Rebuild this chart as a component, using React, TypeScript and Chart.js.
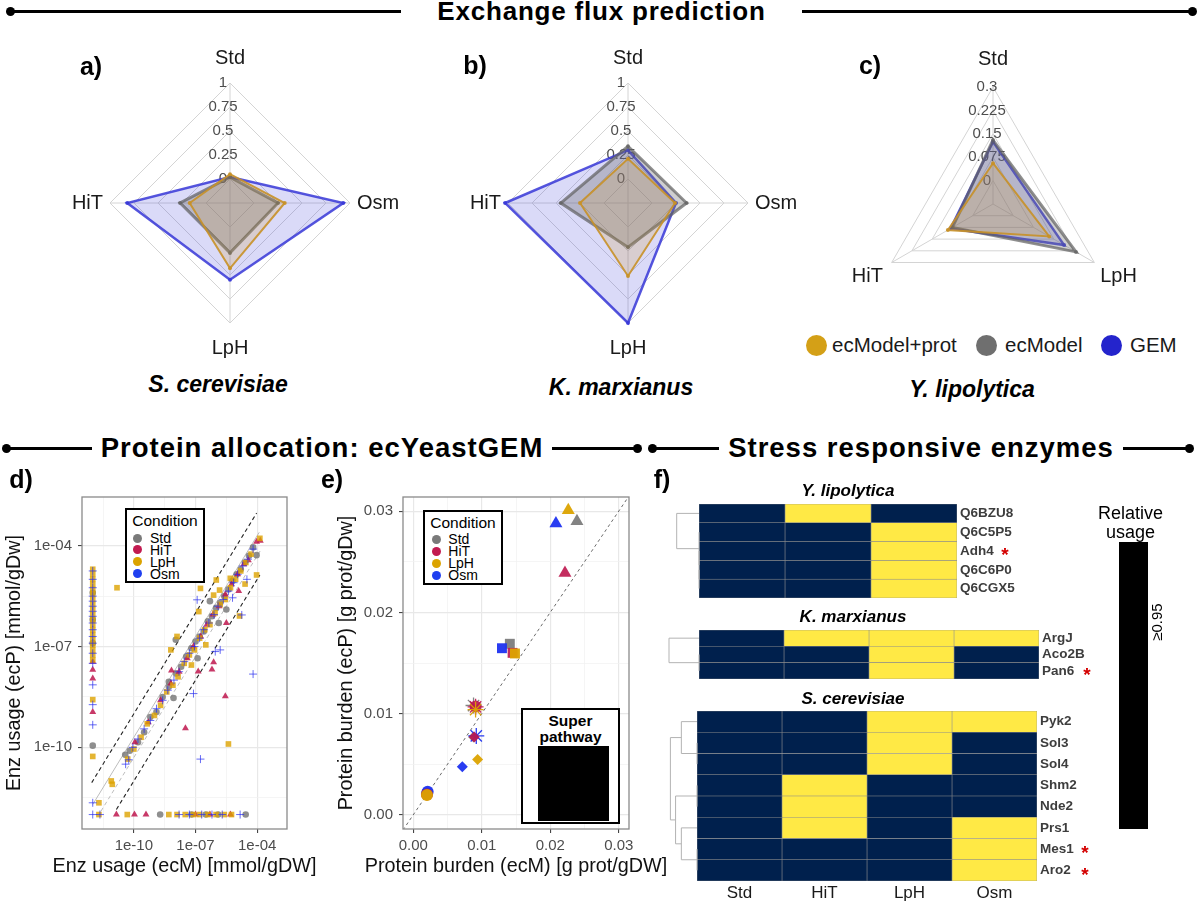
import React, { useEffect, useRef } from 'react';
import { Chart, registerables } from 'chart.js';

Chart.register(...registerables);
const FONT = '"Liberation Sans", Arial, Helvetica, sans-serif';
Chart.defaults.font.family = FONT;

// ---------------- Radar data (a, b, c) ----------------
const radarSeries = ['ecModel+prot', 'ecModel', 'GEM'];
const axesSc = ['Std', 'Osm', 'LpH', 'HiT'];
const scProt = [0.05, 0.32, 0.43, 0.17];
const scEc = [0.02, 0.25, 0.27, 0.27];
const scGem = [0.02, 0.93, 0.55, 0.82];
const axesKm = ['Std', 'Osm', 'LpH', 'HiT'];
const kmProt = [0.21, 0.24, 0.51, 0.25];
const kmEc = [0.34, 0.36, 0.21, 0.45];
const kmGem = [0.3, 0.25, 1.0, 1.03];
const axesYl = ['Std', 'LpH', 'HiT'];
const ylProt = [0.056, 0.133, 0.092];
const ylEc = [0.13, 0.232, 0.075];
const ylGem = [0.124, 0.188, 0.082];
const ticksAB = [0, 0.25, 0.5, 0.75, 1];
const tickLabelsAB = ['0', '0.25', '0.5', '0.75', '1'];
const ticksC = [0, 0.075, 0.15, 0.225, 0.3];
const tickLabelsC = ['0', '0.075', '0.15', '0.225', '0.3'];

// ---------------- Panel d: enzyme usage (log10 values) ----------------
const conditions = ['Std', 'HiT', 'LpH', 'Osm'];
const dStd = [
  [-12, -5.4], [-12, -6.2], [-12, -6.9], [-12, -9.95],
  [-8.72, -12], [-7.2, -12], [-6.5, -12], [-5.9, -12], [-4.56, -12],
  [-10.42, -10.22], [-10.2, -10.1], [-9.8, -9.85], [-9.5, -9.55], [-9.2, -9.1], [-8.9, -8.95], [-8.6, -8.5],
  [-8.07, -8.53], [-8.3, -8.2], [-7.95, -7.8], [-7.7, -7.6], [-7.45, -7.3], [-7.2, -7.05], [-7.0, -6.85],
  [-6.8, -6.7], [-6.6, -6.55], [-6.4, -6.25], [-6.2, -6.1], [-6.0, -5.85], [-5.8, -5.7], [-5.6, -5.5],
  [-5.4, -5.3], [-5.2, -5.05], [-5.0, -4.85], [-4.8, -4.7], [-4.6, -4.5], [-4.4, -4.3], [-4.2, -4.05],
  [-4.03, -4.28], [-5.87, -6.3], [-7.96, -6.8], [-6.3, -5.65], [-6.9, -7.35], [-5.5, -5.9], [-8.3, -8.05],
];
const dHiT = [
  [-12, -7.45], [-12, -7.69], [-12, -7.95], [-12, -8.95],
  [-10.85, -12], [-9.97, -12], [-9.41, -12], [-7.0, -12], [-6.3, -12], [-5.3, -12],
  [-9.95, -9.85], [-9.3, -9.25], [-8.7, -8.6], [-8.2, -8.1], [-7.8, -7.75], [-7.4, -7.35], [-7.1, -7.0],
  [-6.75, -6.7], [-6.45, -6.35], [-6.15, -6.05], [-5.85, -5.8], [-5.55, -5.45], [-5.25, -5.15],
  [-4.95, -4.85], [-4.65, -4.55], [-4.43, -4.43], [-4.03, -3.88], [-3.85, -3.85],
  [-7.49, -9.43], [-5.55, -8.48], [-6.12, -7.47], [-6.2, -7.68], [-8.17, -7.71], [-6.87, -7.74],
  [-5.5, -6.3], [-4.9, -5.35],
];
const dLpH = [
  [-12, -4.7], [-12, -4.85], [-12, -5.0], [-12, -5.15], [-12, -5.3], [-12, -5.45], [-12, -5.6], [-12, -5.75],
  [-12, -5.9], [-12, -6.05], [-12, -6.2], [-12, -6.35], [-12, -6.5], [-12, -6.65], [-12, -6.8], [-12, -6.95],
  [-12, -7.1], [-12, -7.25], [-12, -7.4], [-12, -8.58], [-12, -10.27],
  [-11.7, -12], [-10.32, -12], [-8.3, -12], [-7.9, -12], [-7.5, -12], [-7.1, -12], [-6.8, -12], [-6.4, -12],
  [-6.0, -12], [-5.6, -12], [-5.25, -12],
  [-11.7, -11.65], [-11.1, -11.0], [-11.05, -11.1],
  [-10.3, -10.35], [-10.0, -10.05], [-9.65, -9.7], [-9.35, -9.3], [-9.0, -9.05], [-8.7, -8.75], [-8.4, -8.35],
  [-8.1, -8.15], [-7.85, -7.9], [-7.55, -7.5], [-7.3, -7.25], [-7.05, -7.1], [-6.8, -6.75], [-6.55, -6.5],
  [-6.3, -6.35], [-6.05, -6.0], [-5.8, -5.75], [-5.55, -5.6], [-5.3, -5.25], [-5.05, -5.0], [-4.8, -4.75],
  [-4.55, -4.5], [-4.3, -4.25], [-3.87, -3.78],
  [-10.82, -5.25], [-8.2, -7.1], [-7.9, -6.7], [-6.84, -5.96], [-6.76, -5.27], [-6.12, -5.47], [-5.99, -5.02],
  [-5.83, -5.32], [-5.31, -4.97], [-4.59, -5.14], [-4.03, -4.87], [-4.86, -6.09], [-5.4, -9.9], [-6.5, -6.95],
  [-7.2, -7.55],
];
const dOsm = [
  [-12, -4.75], [-12, -5.0], [-12, -5.25], [-12, -5.5], [-12, -5.65], [-12, -5.8], [-12, -5.95], [-12, -6.1],
  [-12, -6.3], [-12, -6.5], [-12, -6.7], [-12, -6.9], [-12, -7.2], [-12, -7.5], [-12, -8.14], [-12, -8.73],
  [-12, -9.33], [-12, -11.65],
  [-12, -12], [-11.65, -12], [-7.8, -12], [-7.3, -12], [-6.7, -12], [-6.2, -12], [-5.7, -12], [-4.83, -12],
  [-10.4, -10.5], [-10.25, -10.37], [-10.05, -10.0], [-9.8, -9.75], [-9.5, -9.45], [-9.2, -9.2], [-8.9, -8.85],
  [-8.6, -8.6], [-8.35, -8.3], [-8.05, -8.0], [-7.8, -7.75], [-7.55, -7.45], [-7.3, -7.2], [-7.05, -7.0],
  [-6.8, -6.75], [-6.6, -6.5], [-6.35, -6.3], [-6.1, -6.05], [-5.9, -5.8], [-5.65, -5.6], [-5.4, -5.35],
  [-5.15, -5.1], [-4.95, -4.85], [-4.7, -4.6], [-4.45, -4.4], [-4.2, -4.1],
  [-4.2, -7.82], [-6.76, -10.35], [-7.1, -8.4], [-5.8, -7.1], [-6.04, -7.15], [-4.75, -6.06], [-6.92, -5.61],
  [-4.5, -5.0], [-5.2, -5.55],
];
// reference lines (log10 endpoints): y = 10x, y = x/10, y = 2x, y = x/2
const dLineUp = [[-12.05, -11.05], [-4.03, -3.03]];
const dLineDown = [[-10.85, -11.85], [-3.87, -4.87]];
const dLineHi = [[-12, -11.7], [-3.9, -3.6]];
const dLineLo = [[-11.6, -11.9], [-3.85, -4.15]];
const dTicks = [-11.5, -10, -8.5, -7, -5.5, -4];
const dTickLabels = ['', '1e-10', '', '1e-07', '', '1e-04'];

// ---------------- Panel e: protein burden ----------------
const eShapes = ['triangle', 'rect', 'star', 'rectRot', 'circle'];
const eStd = [[0.0239, 0.029], [0.0141, 0.0169], [0.0088, 0.0108], [0.0088, 0.0077], [0.002, 0.0021]];
const eStdPath = [0, 1, 2, 3, 4];
const eHiT = [[0.02215, 0.0239], [0.0145, 0.016], [0.0091, 0.01067], [0.0091, 0.0107], [0.0089, 0.0077], [0.002, 0.002]];
const eHiTPath = [0, 1, 2, 4, 3, 4];
const eLpH = [[0.02263, 0.0301], [0.01485, 0.01594], [0.0091, 0.0104], [0.0094, 0.00546], [0.002, 0.00195]];
const eLpHPath = [0, 1, 2, 3, 4];
const eOsm = [[0.02083, 0.02878], [0.01295, 0.01646], [0.0092, 0.0078], [0.00716, 0.00474], [0.0021, 0.00227]];
const eOsmPath = [0, 1, 2, 3, 4];
const eIdentity = [[-0.0015, -0.0015], [0.0315, 0.0315]];
const eTicks = [0, 0.005, 0.01, 0.015, 0.02, 0.025, 0.03];
const eTickLabels = ['0.00', '', '0.01', '', '0.02', '', '0.03'];

// ---------------- Panel f: heatmaps ----------------
const ylRows = ['Q6BZU8', 'Q6C5P5', 'Adh4', 'Q6C6P0', 'Q6CGX5'];
const ylCols = ['Std', 'HiT', 'LpH'];
const ylMatrix = [[0, 1, 0], [0, 0, 1], [0, 0, 1], [0, 0, 1], [0, 0, 1]];
const ylStars = [2];
const ylTree = [[3, 4, 0], [2, 5, 0], [1, 6, 0], [0, 7, 1.41]];
const kmRows = ['ArgJ', 'Aco2B', 'Pan6'];
const kmCols = ['Std', 'HiT', 'LpH', 'Osm'];
const kmMatrix = [[0, 1, 1, 1], [0, 0, 1, 0], [0, 0, 1, 0]];
const kmStars = [2];
const kmTree = [[1, 2, 0], [0, 3, 1.41]];
const scRows = ['Pyk2', 'Sol3', 'Sol4', 'Shm2', 'Nde2', 'Prs1', 'Mes1', 'Aro2'];
const scCols = ['Std', 'HiT', 'LpH', 'Osm'];
const scMatrix = [[0, 0, 1, 1], [0, 0, 1, 0], [0, 0, 1, 0], [0, 1, 0, 0], [0, 1, 0, 0], [0, 1, 0, 1], [0, 0, 0, 1], [0, 0, 0, 1]];
const scStars = [6, 7];
const scTree = [[1, 2, 0], [0, 8, 1], [3, 4, 0], [6, 7, 0], [5, 11, 1], [10, 12, 1.37], [9, 13, 1.7]];

// ---------------- styles ----------------
const GOLD = '#d4a017';
const GREY = '#6f6f6f';
const BLUE = '#2424cc';
const condCol = ['#7a7a7a', '#c21a50', '#dba300', '#1f3ff0'];
const HI = '#ffe945';
const LO = '#00204d';

function ChartBox({ make, left, top, width, height }: any) {
  const ref = useRef<HTMLCanvasElement>(null);
  useEffect(() => {
    const chart = new Chart(ref.current as HTMLCanvasElement, make());
    return () => chart.destroy();
  }, []);
  return <canvas ref={ref} width={width} height={height} style={{ position: 'absolute', left, top, width, height }} />;
}

function radarConfig(labels: string[], prot: number[], ec: number[], gem: number[], min: number, max: number,
  tickVals: number[], tickLbls: string[], pad: any, endGap: number, sideGap: number, tickDx: number) {
  const ds = (label: string, data: number[], line: string, fill: string, w: number) => ({
    label, data, borderColor: line, backgroundColor: fill, borderWidth: w, fill: 'start',
    pointRadius: 2, pointBackgroundColor: line, pointBorderWidth: 0, clip: false,
  });
  return {
    type: 'radar',
    data: {
      labels,
      datasets: [
        ds(radarSeries[0], prot, 'rgba(200,145,40,0.9)', 'rgba(205,150,40,0.2)', 2),
        ds(radarSeries[1], ec, 'rgba(95,95,95,0.7)', 'rgba(110,110,110,0.33)', 3),
        ds(radarSeries[2], gem, 'rgba(55,55,215,0.85)', 'rgba(70,70,220,0.2)', 2.5),
      ],
    },
    options: {
      animation: false, responsive: false,
      layout: { padding: pad },
      plugins: { legend: { display: false }, tooltip: { enabled: false } },
      elements: { line: { tension: 0 } },
      scales: {
        r: {
          min, max,
          afterBuildTicks: (s: any) => { s.ticks = tickVals.map((v) => ({ value: v })); },
          ticks: { display: false },
          pointLabels: { display: false },
          grid: { color: '#d4d4d4', lineWidth: 1 },
          angleLines: { color: '#d4d4d4', lineWidth: 1 },
        },
      },
    },
    plugins: [{
      id: 'radarText',
      beforeDatasetsDraw(chart: any) {
        const s = chart.scales.r; const ctx = chart.ctx;
        ctx.save();
        ctx.font = `15px ${FONT}`; ctx.fillStyle = '#4d4d4d'; ctx.textAlign = 'center'; ctx.textBaseline = 'middle';
        tickVals.forEach((v, i) => ctx.fillText(tickLbls[i], s.xCenter + tickDx, s.yCenter - s.getDistanceFromCenterForValue(v)));
        ctx.restore();
      },
      afterDraw(chart: any) {
        const s = chart.scales.r; const ctx = chart.ctx; const R = s.drawingArea;
        ctx.save();
        ctx.font = `20px ${FONT}`; ctx.fillStyle = '#1a1a1a'; ctx.textBaseline = 'middle';
        chart.data.labels.forEach((lab: string, i: number) => {
          const a = s.getIndexAngle(i) - Math.PI / 2;
          const side = Math.abs(Math.sin(a)) < 0.3;
          const p = s.getPointPosition(i, R + (side ? sideGap : endGap));
          ctx.textAlign = side ? (Math.cos(a) > 0 ? 'left' : 'right') : 'center';
          ctx.fillText(lab, p.x, p.y);
        });
        ctx.restore();
      },
    }],
  };
}

function axisOpts(type: string, min: number, max: number, tickVals: number[], labels: string[], pad: number, fit: (s: any) => void) {
  return {
    type, min, max,
    afterBuildTicks: (s: any) => { s.ticks = tickVals.map((v) => ({ value: v })); },
    afterFit: (s: any) => { fit(s); s.paddingTop = 0; s.paddingBottom = 0; s.paddingLeft = 0; s.paddingRight = 0; },
    ticks: {
      callback: (_v: any, i: number) => labels[i], color: '#4d4d4d', font: { size: 15 }, padding: pad,
      autoSkip: false, maxRotation: 0, minRotation: 0,
    },
    grid: {
      color: (c: any) => (labels[c.index] ? '#e8e8e8' : '#f1f1f1'),
      lineWidth: (c: any) => (labels[c.index] ? 1.2 : 0.7),
      tickColor: (c: any) => (labels[c.index] ? '#333' : 'rgba(0,0,0,0)'),
      tickLength: 4, tickWidth: 1,
    },
    border: { display: false },
  };
}

function framePlugin(xTitle: string, yTitle: string, xTitleDy: number, yTitleDx: number) {
  return {
    id: 'frame',
    afterDraw(chart: any) {
      const ctx = chart.ctx; const a = chart.chartArea;
      ctx.save();
      ctx.strokeStyle = '#8a8a8a'; ctx.lineWidth = 1.3;
      ctx.strokeRect(a.left, a.top, a.right - a.left, a.bottom - a.top);
      ctx.font = `19.8px ${FONT}`; ctx.fillStyle = '#111'; ctx.textAlign = 'center'; ctx.textBaseline = 'middle';
      ctx.fillText(xTitle, (a.left + a.right) / 2, a.bottom + xTitleDy);
      ctx.translate(a.left + yTitleDx, (a.top + a.bottom) / 2);
      ctx.rotate(-Math.PI / 2);
      ctx.fillText(yTitle, 0, 0);
      ctx.restore();
    },
  };
}

const toLogPts = (arr: number[][]) => arr.map(([a, b]) => ({ x: Math.pow(10, a), y: Math.pow(10, b) }));
const toPts = (arr: number[][]) => arr.map(([a, b]) => ({ x: a, y: b }));

function dConfig() {
  const pts = (label: string, arr: number[][], style: string, color: string, r: number, bw: number) => ({
    label, data: toLogPts(arr), pointStyle: style, pointRadius: r, backgroundColor: color, borderColor: color, borderWidth: bw,
  });
  const line = (arr: number[][], color: string, dash: number[], w: number) => ({
    data: toLogPts(arr), showLine: true, pointRadius: 0, borderColor: color, borderDash: dash, borderWidth: w, fill: false,
  });
  return {
    type: 'scatter',
    data: {
      datasets: [
        pts('Osm', dOsm, 'cross', 'rgba(40,45,240,0.7)', 4, 1),
        pts('LpH', dLpH, 'rect', 'rgba(221,163,0,0.8)', 4, 0),
        pts('HiT', dHiT, 'triangle', 'rgba(190,22,78,0.85)', 4, 0),
        pts('Std', dStd, 'circle', 'rgba(115,115,115,0.8)', 3.3, 0),
        line(dLineUp, '#222', [4, 3], 1.1),
        line(dLineDown, '#222', [4, 3], 1.1),
        line(dLineHi, '#bdbdbd', [], 1),
        line(dLineLo, '#bdbdbd', [4, 3], 1),
      ],
    },
    options: {
      animation: false, responsive: false,
      layout: { padding: { left: 0, top: 15, right: 38, bottom: 0 } },
      plugins: { legend: { display: false }, tooltip: { enabled: false } },
      scales: {
        x: axisOpts('logarithmic', Math.pow(10, -12.46), Math.pow(10, -2.55), dTicks.map((v) => Math.pow(10, v)), dTickLabels, 4, (s: any) => { s.height = 56; }),
        y: axisOpts('logarithmic', Math.pow(10, -12.43), Math.pow(10, -2.55), dTicks.map((v) => Math.pow(10, v)), dTickLabels, 6, (s: any) => { s.width = 82; }),
      },
    },
    plugins: [framePlugin('Enz usage (ecM) [mmol/gDW]', 'Enz usage (ecP) [mmol/gDw]', 38, -67)],
  };
}

function eConfig() {
  const eRadius = [7.5, 7, 8, 5.5, 6];
  const pts = (label: string, arr: number[][], path: number[], color: string) => ({
    label, data: toPts(arr),
    pointStyle: path.map((k) => eShapes[k]),
    pointRadius: path.map((k) => eRadius[k]),
    pointBorderWidth: path.map((k) => (k === 2 ? 1.3 : 0)),
    backgroundColor: color, borderColor: color,
  });
  return {
    type: 'scatter',
    data: {
      datasets: [
        pts('LpH', eLpH, eLpHPath, 'rgba(220,163,0,0.95)'),
        pts('HiT', eHiT, eHiTPath, 'rgba(190,22,78,0.9)'),
        pts('Osm', eOsm, eOsmPath, 'rgba(30,50,240,0.95)'),
        pts('Std', eStd, eStdPath, 'rgba(120,120,120,0.92)'),
        { data: toPts(eIdentity), showLine: true, pointRadius: 0, borderColor: '#6a6a6a', borderDash: [3, 3], borderWidth: 1 },
      ],
    },
    options: {
      animation: false, responsive: false,
      layout: { padding: { left: 0, top: 15, right: 61, bottom: 0 } },
      plugins: { legend: { display: false }, tooltip: { enabled: false } },
      scales: {
        x: axisOpts('linear', -0.0015, 0.0315, eTicks, eTickLabels, 4, (s: any) => { s.height = 56; }),
        y: axisOpts('linear', -0.0014, 0.0314, eTicks, eTickLabels, 6, (s: any) => { s.width = 75; }),
      },
    },
    plugins: [framePlugin('Protein burden (ecM) [g prot/gDW]', 'Protein burden (ecP) [g prot/gDw]', 38, -56)],
  };
}

function heatConfig(rows: string[], cols: string[], matrix: number[][], stars: number[], tree: number[][],
  treeW: number, pad: any, axisW: number, showX: boolean) {
  return {
    type: 'bar',
    data: {
      labels: rows,
      datasets: cols.map((c, j) => ({
        label: c,
        data: rows.map(() => 1),
        backgroundColor: matrix.map((r) => (r[j] ? HI : LO)),
        borderColor: '#8c8c8c', borderWidth: 0.6, borderSkipped: false,
        barPercentage: 1, categoryPercentage: 1,
      })),
    },
    options: {
      indexAxis: 'y', animation: false, responsive: false,
      layout: { padding: pad },
      plugins: { legend: { display: false }, tooltip: { enabled: false } },
      scales: {
        x: {
          stacked: true, min: 0, max: cols.length, display: showX,
          grid: { display: false, drawTicks: false }, border: { display: false },
          afterBuildTicks: (s: any) => { s.ticks = cols.map((_c, j) => ({ value: j + 0.5 })); },
          afterFit: (s: any) => { if (showX) s.height = 22; s.paddingLeft = 0; s.paddingRight = 0; },
          ticks: { callback: (_v: any, i: number) => cols[i], font: { size: 17 }, color: '#1a1a1a', padding: 2, autoSkip: false, maxRotation: 0 },
        },
        y: {
          stacked: true, position: 'right',
          grid: { display: false, drawTicks: false }, border: { display: false },
          afterFit: (s: any) => { s.width = axisW; s.paddingTop = 0; s.paddingBottom = 0; },
          ticks: { font: { size: 13.5, weight: 'bold' }, color: '#3d3d3d', padding: 3, autoSkip: false },
        },
      },
    },
    plugins: [{
      id: 'dendroStars',
      afterDraw(chart: any) {
        const ctx = chart.ctx; const y = chart.scales.y; const a = chart.chartArea;
        const pos: number[] = []; const hgt: number[] = [];
        rows.forEach((_r, i) => { pos.push(y.getPixelForValue(i)); hgt.push(0); });
        const maxH = Math.max(...tree.map((m) => m[2]));
        const X = (h: number) => a.left - (h / maxH) * treeW;
        ctx.save();
        ctx.strokeStyle = '#b3b3b3'; ctx.lineWidth = 1;
        tree.forEach(([p, q, h]) => {
          ctx.beginPath();
          ctx.moveTo(X(hgt[p]), pos[p]); ctx.lineTo(X(h), pos[p]); ctx.lineTo(X(h), pos[q]); ctx.lineTo(X(hgt[q]), pos[q]);
          ctx.stroke();
          pos.push((pos[p] + pos[q]) / 2); hgt.push(h);
        });
        ctx.font = `bold 19px ${FONT}`; ctx.fillStyle = '#d40000'; ctx.textAlign = 'center'; ctx.textBaseline = 'middle';
        stars.forEach((i) => ctx.fillText('*', a.right + 48, y.getPixelForValue(i) + 5));
        ctx.restore();
      },
    }],
  };
}

function Header({ x0, x1, y, text, dotL, dotR, gap, size, ls }: any) {
  const dot = <div style={{ width: 9, height: 9, borderRadius: '50%', background: '#000', flex: 'none' }} />;
  return (
    <div style={{ position: 'absolute', left: x0, top: y - 15, width: x1 - x0, height: 30, display: 'flex', alignItems: 'center' }}>
      {dotL ? dot : null}
      <div style={{ flex: 1, height: 3, background: '#000', marginLeft: dotL ? -2 : 0 }} />
      <div style={{ margin: `0 ${gap}px`, fontSize: size, lineHeight: `${size}px`, fontWeight: 'bold', letterSpacing: ls, whiteSpace: 'nowrap' }}>{text}</div>
      <div style={{ flex: 1, height: 3, background: '#000', marginRight: dotR ? -2 : 0 }} />
      {dotR ? dot : null}
    </div>
  );
}

function T({ x, y, text, size, bold, italic, color, w, align, rot }: any) {
  const width = w || 400;
  const al = align || 'center';
  return (
    <div style={{
      position: 'absolute', left: al === 'center' ? x - width / 2 : x, top: y - size * 0.6, width, textAlign: al,
      fontSize: size, lineHeight: `${size * 1.2}px`, fontWeight: bold ? 'bold' : 'normal', fontStyle: italic ? 'italic' : 'normal',
      color: color || '#000', whiteSpace: 'nowrap', transform: rot ? `rotate(${rot}deg)` : undefined,
    }}>{text}</div>
  );
}

function CondLegend({ left, top, dotX, textX, rowY }: any) {
  return (
    <div style={{ position: 'absolute', left, top, width: 80, height: 75, border: '2px solid #000', background: '#fff', boxSizing: 'border-box' }}>
      <div style={{ position: 'absolute', left: 0, width: 76, top: 2, textAlign: 'center', fontSize: 15.5, lineHeight: '18px' }}>Condition</div>
      {conditions.map((c, i) => (
        <React.Fragment key={c}>
          <div style={{ position: 'absolute', left: dotX - 6.5, top: rowY + i * 11.9 - 6.5, width: 9, height: 9, borderRadius: '50%', background: condCol[i] }} />
          <div style={{ position: 'absolute', left: textX - 2, top: rowY + i * 11.9 - 10, fontSize: 14, lineHeight: '16px' }}>{c}</div>
        </React.Fragment>
      ))}
    </div>
  );
}

export default function App() {
  return (
    <div style={{ position: 'absolute', left: 0, top: 0, width: 1200, height: 903, background: '#fff', overflow: 'hidden', fontFamily: FONT }}>
      <Header x0={6} x1={1197} y={11} text="Exchange flux prediction" dotL dotR gap={36} size={26} ls={0.8} />
      <Header x0={2} x1={642} y={448} text="Protein allocation: ecYeastGEM" dotL dotR gap={9} size={27.5} ls={1} />
      <Header x0={648} x1={1194} y={448} text="Stress responsive enzymes" dotL dotR gap={9} size={27.5} ls={1} />

      <ChartBox left={0} top={30} width={400} height={340}
        make={() => radarConfig(axesSc, scProt, scEc, scGem, -0.25, 1, ticksAB, tickLabelsAB, { left: 110, right: 50, top: 53, bottom: 47 }, 25, 7, -7)} />
      <ChartBox left={400} top={30} width={400} height={340}
        make={() => radarConfig(axesKm, kmProt, kmEc, kmGem, -0.25, 1, ticksAB, tickLabelsAB, { left: 108, right: 52, top: 53, bottom: 47 }, 25, 7, -7)} />
      <ChartBox left={800} top={30} width={400} height={300}
        make={() => radarConfig(axesYl, ylProt, ylEc, ylGem, -0.075, 0.3, ticksC, tickLabelsC, { left: 76, right: 90, top: 57, bottom: 9 }, 28, 7, -6)} />

      <T x={91} y={66} text="a)" size={25} bold />
      <T x={475} y={65} text="b)" size={25} bold />
      <T x={870} y={65} text="c)" size={25} bold />
      <T x={218} y={385} text="S. cerevisiae" size={23} bold italic />
      <T x={621} y={388} text="K. marxianus" size={23} bold italic />
      <T x={972} y={390} text="Y. lipolytica" size={23} bold italic />

      {[GOLD, GREY, BLUE].map((c, i) => (
        <div key={c} style={{ position: 'absolute', left: [816, 986.7, 1111.7][i] - 10.5, top: 345 - 10.5, width: 21, height: 21, borderRadius: '50%', background: c }} />
      ))}
      {radarSeries.map((s, i) => (
        <T key={s} x={[832, 1005, 1130][i]} y={345} text={s} size={20.5} align="left" w={200} color="#1a1a1a" />
      ))}

      <ChartBox left={0} top={482} width={325} height={403} make={dConfig} />
      <ChartBox left={328} top={482} width={362} height={403} make={eConfig} />

      <ChartBox left={660} top={500} width={400} height={102}
        make={() => heatConfig(ylRows, ylCols, ylMatrix, ylStars, ylTree, 22.3, { left: 39, top: 4, bottom: 4, right: 0 }, 103, false)} />
      <ChartBox left={660} top={626} width={480} height={57}
        make={() => heatConfig(kmRows, kmCols, kmMatrix, kmStars, kmTree, 30, { left: 39, top: 4, bottom: 4, right: 0 }, 101, false)} />
      <ChartBox left={658} top={707} width={480} height={196}
        make={() => heatConfig(scRows, scCols, scMatrix, scStars, scTree, 26.6, { left: 39, top: 4, bottom: 0, right: 0 }, 101, true)} />

      <T x={21} y={479} text="d)" size={25} bold />
      <T x={332} y={479} text="e)" size={25} bold />
      <T x={662} y={479} text="f)" size={25} bold />

      <CondLegend left={125} top={508} dotX={12} textX={25} rowY={30} />
      <CondLegend left={423} top={510} dotX={13.7} textX={25.3} rowY={29.3} />

      <div style={{ position: 'absolute', left: 521, top: 708, width: 99, height: 116, border: '2px solid #000', background: '#fff', boxSizing: 'border-box' }}>
        <div style={{ position: 'absolute', left: 0, width: 95, top: 3, textAlign: 'center', fontSize: 15.5, lineHeight: '16px', fontWeight: 'bold' }}>Super<br />pathway</div>
        <div style={{ position: 'absolute', left: 15, top: 36, width: 71, height: 75, background: '#000' }} />
      </div>

      <T x={848} y={491} text="Y. lipolytica" size={17} bold italic />
      <T x={853} y={617} text="K. marxianus" size={17} bold italic />
      <T x={853} y={699} text="S. cerevisiae" size={17} bold italic />

      <T x={1130.5} y={514} text="Relative" size={18} />
      <T x={1130.5} y={533} text="usage" size={18} />
      <div style={{ position: 'absolute', left: 1119, top: 542, width: 29, height: 287, background: '#000' }} />
      <T x={1157} y={622} text="≥0.95" size={15} w={60} rot={-90} />
    </div>
  );
}
